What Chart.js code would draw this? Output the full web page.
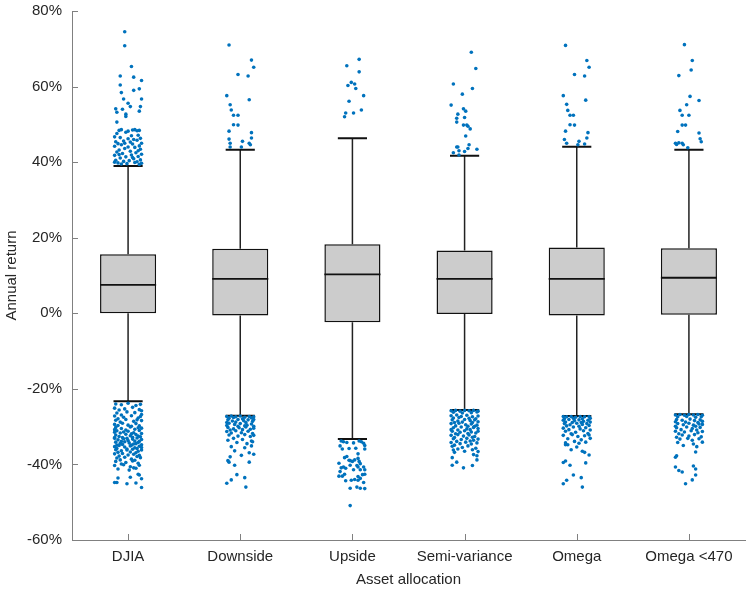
<!DOCTYPE html>
<html>
<head>
<meta charset="utf-8">
<script src="https://cdn.jsdelivr.net/npm/chart.js@4/dist/chart.umd.min.js"></script>
<style>
  body { margin: 0; background: #fff; }
  canvas { display: block; }
</style>
</head>
<body>
<canvas id="box" width="753" height="595"></canvas>
<script>
// categories and box statistics (annual return, %)
const categories = ["DJIA", "Downside", "Upside", "Semi-variance", "Omega", "Omega <470"];
const whiskerLow = [-23.3, -27.1, -33.3, -25.6, -27.2, -26.7];
const q1 = [0.0, -0.6, -2.4, -0.2, -0.6, -0.4];
const median = [7.5, 9.1, 10.3, 9.1, 9.1, 9.4];
const q3 = [15.6, 17.1, 18.3, 16.6, 17.4, 17.2];
const whiskerHigh = [39.0, 43.3, 46.3, 41.7, 44.1, 43.3];
const yTicks = [-60, -40, -20, 0, 20, 40, 60, 80];

// outliers: [jitter, return %]
const djiaOutliers = [
  [-0.03,74.5],[-0.03,70.8],[0.03,65.3],[-0.07,62.8],[0.05,62.5],[0.12,61.6],[-0.07,60.4],[0.10,59.4],
  [0.05,59.0],[-0.06,58.4],[-0.04,56.7],[0.12,56.7],[0.0,55.6],[0.02,54.7],[0.11,54.7],[-0.11,54.1],
  [-0.05,54.0],[-0.10,53.2],[0.10,53.5],[-0.02,52.7],[-0.02,52.1],[-0.10,50.6],
  [-0.08,48.4],[-0.06,48.6],[0.0,48.2],[0.04,48.5],[0.06,48.6],[0.08,48.3],[0.10,48.4],[-0.10,47.6],
  [-0.02,47.9],[0.09,47.1],[-0.12,46.7],[0.11,46.3],[-0.07,46.5],[0.0,46.2],[0.05,46.0],[-0.11,45.4],
  [-0.04,45.6],[0.02,45.3],[0.08,45.8],[0.12,45.0],[-0.09,44.9],[-0.06,44.6],[0.04,44.8],[0.10,44.3],
  [-0.12,44.2],[0.0,44.0],[-0.03,43.6],[0.06,43.9],[0.11,43.4],[-0.08,43.2],[-0.10,42.7],[0.02,42.9],
  [0.07,42.5],[-0.05,42.3],[0.12,42.1],[-0.12,41.8],[0.03,41.9],[-0.02,41.4],[0.09,41.5],[-0.07,41.1],
  [0.05,40.9],[0.11,40.6],[-0.11,40.5],[-0.04,40.2],[0.01,40.4],[0.08,40.1],[-0.09,39.8],[0.12,39.7],
  [-0.01,39.6],[0.06,39.9],[-0.06,39.5],[0.10,39.4],[-0.12,40.0],[0.04,41.2],[-0.08,42.0],[0.09,43.0],
  [-0.03,45.0],[0.03,47.0],
  [-0.11,-24.0],[-0.06,-24.2],[0.0,-23.8],[0.07,-24.4],[0.11,-24.1],
  [-0.12,-25.1],[-0.03,-25.3],[0.04,-24.9],[0.10,-25.5],[0.12,-25.8],[-0.08,-25.6],
  [-0.10,-26.4],[-0.01,-26.1],[0.06,-26.3],[0.12,-26.8],[-0.06,-26.9],
  [-0.12,-27.2],[-0.04,-27.5],[0.03,-27.1],[0.09,-27.7],[0.11,-27.3],[-0.09,-27.9],
  [-0.11,-28.3],[-0.02,-28.1],[0.05,-28.6],[0.12,-28.4],[-0.07,-28.8],[0.08,-28.2],
  [-0.12,-29.4],[-0.05,-29.1],[0.0,-29.6],[0.07,-29.2],[0.10,-29.8],[-0.09,-29.7],[0.03,-29.9],
  [-0.11,-30.2],[-0.06,-30.5],[0.02,-30.1],[0.06,-30.7],[0.12,-30.4],[-0.02,-30.9],[0.09,-30.3],[-0.12,-30.8],
  [-0.10,-31.1],[-0.04,-31.4],[0.0,-31.2],[0.05,-31.6],[0.10,-31.0],[0.12,-31.8],[-0.07,-31.7],[0.03,-31.9],[-0.12,-31.5],
  [-0.11,-32.2],[-0.08,-32.6],[-0.02,-32.0],[0.02,-32.4],[0.07,-32.1],[0.11,-32.7],[-0.05,-32.9],[0.04,-32.8],[0.09,-32.5],[-0.12,-32.9],
  [-0.12,-33.1],[-0.09,-33.5],[-0.04,-33.2],[0.0,-33.7],[0.04,-33.3],[0.08,-33.0],[0.12,-33.4],[-0.06,-33.9],[0.06,-33.8],[0.10,-33.9],[-0.01,-33.1],
  [-0.11,-34.1],[-0.07,-34.4],[-0.03,-34.0],[0.01,-34.3],[0.05,-34.6],[0.09,-34.2],[0.12,-34.8],[-0.10,-34.9],[-0.05,-34.7],[0.03,-34.9],[0.07,-34.5],
  [-0.12,-35.3],[-0.08,-35.0],[-0.03,-35.4],[0.02,-35.1],[0.06,-35.6],[0.10,-35.2],[-0.10,-35.8],[-0.01,-35.9],[0.08,-35.8],[0.12,-35.5],
  [-0.11,-36.1],[-0.06,-36.4],[-0.01,-36.2],[0.04,-36.0],[0.09,-36.5],[0.12,-36.2],[-0.09,-36.8],[0.02,-36.7],[0.07,-36.9],
  [-0.12,-37.2],[-0.05,-37.1],[0.0,-37.5],[0.05,-37.3],[0.10,-37.6],[-0.08,-37.8],[0.08,-37.9],
  [-0.10,-38.3],[-0.03,-38.1],[0.03,-38.6],[0.11,-38.2],[-0.07,-38.8],[0.06,-38.9],
  [-0.11,-39.2],[-0.02,-39.5],[0.04,-39.1],[0.09,-39.7],[-0.06,-39.9],
  [-0.12,-40.3],[-0.04,-40.1],[0.02,-40.6],[0.10,-40.2],[0.05,-40.9],
  [-0.09,-41.2],[0.01,-41.5],[0.07,-41.0],[0.09,-42.6],[0.10,-42.8],
  [-0.12,-44.8],[-0.10,-44.8],[-0.09,-43.6],[-0.01,-45.1],[0.02,-43.4],[0.07,-44.9],[0.12,-46.1],[0.12,-43.8]
];
const downsideOutliers = [
  [-0.10,71.0],[0.10,67.0],[0.12,65.1],[-0.02,63.2],[0.07,62.8],[-0.12,57.6],[0.08,56.5],[-0.09,55.2],
  [-0.08,53.8],[-0.06,52.4],[-0.02,52.4],[-0.06,49.9],[-0.02,49.8],[-0.10,48.2],[0.10,47.8],[0.10,46.4],
  [-0.10,46.1],[0.02,45.5],[-0.09,45.0],[0.08,45.0],[0.09,44.6],[-0.09,44.0],[0.01,44.0],
  [-0.12,-27.3],[-0.08,-27.2],[-0.04,-27.4],[0.0,-27.2],[0.04,-27.5],[0.08,-27.3],[0.12,-27.4],[-0.10,-27.8],[0.02,-27.9],[0.10,-27.7],[-0.06,-27.6],
  [-0.11,-28.2],[-0.07,-28.5],[-0.02,-28.1],[0.03,-28.4],[0.07,-28.2],[0.11,-28.6],[-0.12,-28.9],[-0.04,-28.8],[0.05,-28.9],[0.12,-28.1],
  [-0.10,-29.1],[-0.05,-29.4],[0.0,-29.2],[0.06,-29.6],[0.10,-29.3],[-0.12,-29.7],[-0.02,-29.9],[0.04,-29.8],[0.12,-29.9],
  [-0.11,-30.2],[-0.06,-30.6],[-0.01,-30.3],[0.05,-30.1],[0.09,-30.7],[0.12,-30.4],[-0.09,-30.9],[0.02,-30.8],
  [-0.12,-31.3],[-0.04,-31.1],[0.01,-31.6],[0.07,-31.2],[0.11,-31.8],[-0.08,-31.7],
  [-0.10,-32.2],[-0.02,-32.5],[0.04,-32.1],[0.09,-32.6],[0.12,-32.3],
  [-0.06,-33.1],[0.02,-33.4],[0.10,-33.8],[-0.11,-33.6],
  [-0.03,-34.2],[0.06,-34.5],[0.11,-34.0],[-0.08,-35.3],[0.04,-35.6],[0.10,-35.1],
  [-0.05,-36.4],[0.08,-36.9],[0.01,-37.6],[0.12,-37.3],[-0.09,-38.0],
  [-0.11,-39.0],[-0.10,-39.4],[-0.05,-40.2],[0.08,-39.4],[-0.03,-42.7],[0.04,-43.5],[-0.08,-44.1],[-0.12,-45.0],[0.05,-46.0]
];
const upsideOutliers = [
  [0.06,67.2],[-0.05,65.5],[0.06,63.9],[-0.01,61.1],[0.02,60.7],[-0.04,60.3],[0.03,59.5],[0.10,57.6],
  [-0.03,56.1],[0.08,53.8],[-0.06,53.0],[0.01,53.0],[-0.07,52.0],
  [-0.10,-33.8],[-0.08,-34.0],[-0.05,-34.2],[0.01,-34.3],[0.06,-33.8],[0.08,-34.0],[0.10,-34.4],[0.11,-35.0],
  [0.11,-35.9],[-0.11,-35.1],[-0.09,-35.9],[0.03,-35.7],[0.05,-37.2],[-0.03,-35.8],[-0.07,-38.2],[-0.05,-37.9],
  [-0.03,-38.9],[-0.02,-39.0],[0.0,-39.2],[0.02,-38.8],[0.05,-38.4],[0.06,-39.2],[0.07,-39.8],[0.04,-40.3],
  [-0.12,-39.7],[-0.10,-40.9],[-0.08,-40.7],[-0.06,-41.0],[-0.02,-40.2],[0.01,-41.4],[0.05,-40.7],[0.07,-41.4],
  [0.10,-40.7],[0.11,-41.4],[0.11,-42.6],[0.09,-42.7],[0.05,-43.2],[0.07,-43.7],[-0.11,-41.9],[-0.12,-43.1],
  [-0.09,-43.1],[-0.07,-42.6],[-0.06,-44.3],[-0.01,-44.2],[0.02,-44.0],[0.05,-44.2],[0.10,-44.8],[-0.02,-46.3],
  [0.04,-46.0],[0.07,-46.3],[0.11,-46.4],[-0.02,-50.9]
];
const semiVarOutliers = [
  [0.06,69.1],[0.10,64.8],[-0.10,60.7],[0.07,59.5],[-0.02,58.0],[-0.12,55.1],[-0.01,54.1],[0.01,53.5],
  [-0.06,52.7],[-0.07,51.6],[0.0,51.8],[-0.07,50.6],[-0.01,49.8],[0.02,49.8],[0.03,49.5],[0.05,48.8],
  [0.01,46.9],[0.04,44.6],[-0.07,44.0],[-0.06,44.0],[0.11,43.4],[0.03,43.6],[-0.05,43.0],[-0.10,42.5],
  [0.0,42.8],[-0.05,41.9],
  [-0.12,-25.8],[-0.08,-25.7],[-0.04,-25.9],[0.0,-25.7],[0.04,-25.8],[0.08,-25.7],[0.12,-25.9],[-0.10,-26.2],[-0.02,-26.4],[0.06,-26.3],[0.11,-26.1],
  [-0.12,-27.1],[-0.07,-26.9],[-0.03,-27.3],[0.02,-27.0],[0.07,-27.4],[0.12,-27.2],[-0.10,-27.7],[0.04,-27.8],[0.10,-27.9],[-0.05,-27.6],
  [-0.11,-28.2],[-0.06,-28.5],[0.0,-28.1],[0.05,-28.4],[0.09,-28.2],[0.12,-28.7],[-0.09,-28.9],[-0.02,-28.8],[0.07,-28.9],
  [-0.12,-29.2],[-0.05,-29.1],[0.01,-29.5],[0.06,-29.3],[0.11,-29.6],[-0.08,-29.8],[0.03,-29.9],[0.09,-29.9],
  [-0.10,-30.3],[-0.03,-30.1],[0.02,-30.6],[0.08,-30.2],[0.12,-30.5],[-0.12,-30.8],[-0.06,-30.9],[0.05,-30.8],
  [-0.11,-31.2],[-0.04,-31.5],[0.0,-31.1],[0.06,-31.4],[0.10,-31.7],[-0.08,-31.9],[0.03,-31.8],[0.12,-31.2],
  [-0.12,-32.3],[-0.06,-32.1],[-0.01,-32.5],[0.04,-32.2],[0.09,-32.6],[-0.09,-32.9],[0.07,-32.8],
  [-0.10,-33.2],[-0.03,-33.4],[0.02,-33.1],[0.08,-33.6],[0.12,-33.3],[-0.07,-33.9],[0.05,-33.8],
  [-0.12,-34.2],[-0.04,-34.5],[0.01,-34.1],[0.06,-34.6],[0.11,-34.3],[-0.09,-34.9],
  [-0.11,-35.2],[-0.02,-35.5],[0.03,-35.1],[0.10,-35.7],[-0.06,-35.9],
  [-0.10,-36.2],[0.0,-36.5],[0.07,-36.1],[0.12,-36.6],
  [-0.11,-38.2],[-0.07,-39.4],[-0.11,-40.2],[-0.01,-40.9],[0.07,-40.3],[0.11,-38.8],[0.11,-37.7],[0.08,-37.4],[-0.09,-36.8]
];
const omegaOutliers = [
  [-0.10,70.9],[0.09,66.9],[0.11,65.1],[-0.02,63.2],[0.07,62.8],[-0.12,57.6],[0.08,56.4],[-0.09,55.3],
  [-0.08,53.7],[-0.06,52.4],[-0.03,52.4],[-0.06,49.9],[-0.02,49.8],[-0.10,48.2],[0.10,47.8],[0.09,46.4],
  [-0.11,46.0],[0.02,45.5],[-0.09,45.0],[0.07,44.8],[0.01,44.6],
  [-0.12,-27.3],[-0.09,-27.4],[-0.05,-27.3],[-0.01,-27.5],[0.03,-27.3],[0.07,-27.4],[0.11,-27.3],[-0.11,-27.9],[-0.03,-27.8],[0.05,-27.9],[0.12,-27.8],
  [-0.12,-28.3],[-0.07,-28.1],[-0.02,-28.4],[0.02,-28.2],[0.06,-28.6],[0.10,-28.3],[-0.10,-28.8],[-0.04,-28.9],[0.04,-28.9],[0.12,-28.8],
  [-0.11,-29.2],[-0.06,-29.5],[0.0,-29.1],[0.05,-29.4],[0.09,-29.2],[-0.09,-29.8],[0.02,-29.9],[0.11,-29.7],
  [-0.12,-30.4],[-0.03,-30.1],[0.03,-30.6],[0.08,-30.3],[-0.07,-30.8],[0.12,-30.9],
  [-0.10,-31.2],[-0.01,-31.5],[0.06,-31.1],[0.10,-31.8],[-0.05,-31.9],
  [-0.12,-32.3],[-0.04,-32.1],[0.01,-32.6],[0.07,-32.4],[0.11,-32.2],
  [-0.08,-33.2],[0.04,-33.5],[0.12,-33.1],[-0.02,-33.9],[-0.10,-34.3],[0.08,-34.1],[0.02,-34.4],
  [-0.10,-34.8],[-0.08,-34.8],[-0.05,-36.1],[0.0,-35.4],[0.05,-36.5],[0.07,-36.8],[0.11,-37.5],[0.08,-39.6],
  [-0.12,-39.5],[-0.10,-39.1],[-0.06,-40.2],[-0.03,-42.8],[0.04,-43.5],[-0.09,-44.2],[-0.12,-45.1],[0.05,-46.0]
];
const omega470Outliers = [
  [-0.04,71.1],[0.03,66.9],[0.02,64.4],[-0.09,62.9],[0.01,57.4],[0.09,56.3],[-0.02,55.2],[-0.08,53.7],
  [-0.06,52.4],[0.0,52.4],[-0.06,49.8],[-0.03,49.8],[-0.10,48.1],[0.09,47.7],[0.10,46.2],[0.11,45.4],
  [-0.12,45.0],[-0.09,45.1],[-0.06,45.0],[-0.05,44.6],[-0.11,44.7],[-0.01,43.8],
  [-0.12,-26.9],[-0.08,-26.8],[-0.04,-27.0],[0.0,-26.8],[0.04,-26.9],[0.08,-26.8],[0.12,-27.0],[-0.10,-27.4],[-0.02,-27.3],[0.06,-27.5],[0.11,-27.4],
  [-0.11,-28.1],[-0.06,-28.3],[0.01,-28.0],[0.05,-28.4],[0.10,-28.2],[-0.12,-28.7],[-0.03,-28.8],[0.08,-28.9],[0.12,-28.6],
  [-0.10,-29.2],[-0.05,-29.5],[0.0,-29.1],[0.04,-29.6],[0.09,-29.3],[-0.12,-29.9],[0.06,-29.9],[0.12,-29.4],
  [-0.11,-30.3],[-0.02,-30.1],[0.03,-30.5],[0.10,-30.2],[-0.07,-30.8],[0.07,-30.9],
  [-0.12,-31.2],[-0.04,-31.4],[0.02,-31.1],[0.08,-31.6],[0.12,-31.3],[-0.09,-31.9],
  [-0.06,-32.2],[0.0,-32.5],[0.05,-32.1],[0.11,-32.7],[-0.11,-32.8],
  [-0.08,-33.3],[-0.01,-33.1],[0.03,-33.6],[0.09,-33.2],[-0.10,-34.2],[0.04,-34.6],[0.12,-34.1],
  [-0.05,-35.0],[0.07,-35.3],
  [0.06,-36.7],[-0.11,-37.7],[-0.12,-38.1],[-0.12,-40.7],[-0.09,-41.6],[-0.06,-42.0],[0.04,-40.4],
  [0.06,-41.2],[0.06,-42.8],[0.03,-44.1],[-0.03,-45.1]
];

const outlierSets = [djiaOutliers, downsideOutliers, upsideOutliers, semiVarOutliers, omegaOutliers, omega470Outliers];

const FONT = "'Liberation Sans', Arial, Helvetica, sans-serif";
const AXIS_GRAY = "#808080";
const TEXT = "#262626";

const boxData = categories.map((c, i) => ({ x: i + 1, y: [q1[i], q3[i]] }));
const pointData = [];
outlierSets.forEach((set, i) => {
  set.forEach(p => pointData.push({ x: i + 1 + p[0], y: p[1] }));
});

// whiskers, caps, medians and inward tick marks
const boxPlugin = {
  id: "boxParts",
  beforeDatasetsDraw(chart) {
    const { ctx, scales: { x, y } } = chart;
    ctx.save();
    categories.forEach((c, i) => {
      const cx = x.getPixelForValue(i + 1);
      const capHalf = (x.getPixelForValue(i + 1.13) - cx);
      ctx.strokeStyle = "#222";
      ctx.lineWidth = 1.5;
      ctx.beginPath();
      ctx.moveTo(cx, y.getPixelForValue(q3[i]));
      ctx.lineTo(cx, y.getPixelForValue(whiskerHigh[i]));
      ctx.moveTo(cx, y.getPixelForValue(q1[i]));
      ctx.lineTo(cx, y.getPixelForValue(whiskerLow[i]));
      ctx.stroke();
      ctx.strokeStyle = "#111";
      ctx.lineWidth = 2;
      ctx.beginPath();
      [whiskerHigh[i], whiskerLow[i]].forEach(v => {
        const py = y.getPixelForValue(v);
        ctx.moveTo(cx - capHalf, py);
        ctx.lineTo(cx + capHalf, py);
      });
      ctx.stroke();
    });
    ctx.restore();
  },
  afterDatasetDraw(chart, args) {
    if (args.index !== 0) return;
    const { ctx, scales: { x, y } } = chart;
    ctx.save();
    ctx.strokeStyle = "#111";
    ctx.lineWidth = 1.8;
    categories.forEach((c, i) => {
      const x0 = x.getPixelForValue(i + 0.75);
      const x1 = x.getPixelForValue(i + 1.25);
      const py = y.getPixelForValue(median[i]);
      ctx.beginPath();
      ctx.moveTo(x0, py);
      ctx.lineTo(x1, py);
      ctx.stroke();
    });
    ctx.restore();
  },
  afterDraw(chart) {
    const { ctx, chartArea, scales: { x, y } } = chart;
    ctx.save();
    ctx.strokeStyle = AXIS_GRAY;
    ctx.lineWidth = 1;
    ctx.beginPath();
    yTicks.forEach(v => {
      const py = Math.round(y.getPixelForValue(v)) + 0.5;
      ctx.moveTo(chartArea.left, py);
      ctx.lineTo(chartArea.left + 6, py);
    });
    categories.forEach((c, i) => {
      const px = Math.round(x.getPixelForValue(i + 1)) + 0.5;
      ctx.moveTo(px, chartArea.bottom);
      ctx.lineTo(px, chartArea.bottom - 6);
    });
    ctx.stroke();
    ctx.restore();
  }
};

new Chart(document.getElementById("box"), {
  data: {
    datasets: [
      {
        type: "bar",
        label: "box",
        data: boxData,
        backgroundColor: "#cccccc",
        borderColor: "#111",
        borderWidth: 1.5,
        borderSkipped: false,
        categoryPercentage: 1,
        barPercentage: 0.5
      },
      {
        type: "scatter",
        label: "outliers",
        data: pointData,
        backgroundColor: "#0072bd",
        borderWidth: 0,
        pointRadius: 1.8,
        clip: false
      }
    ]
  },
  options: {
    responsive: false,
    animation: false,
    layout: { padding: { left: 0, right: 8, top: 3, bottom: 0 } },
    plugins: { legend: { display: false }, tooltip: { enabled: false } },
    scales: {
      x: {
        type: "linear",
        min: 0.5,
        max: 6.5,
        offset: false,
        grid: { display: false },
        border: { display: true, color: AXIS_GRAY, width: 1 },
        afterBuildTicks: s => { s.ticks = categories.map((c, i) => ({ value: i + 1 })); },
        afterFit: s => { s.height = 55; },
        ticks: {
          padding: 0,
          color: TEXT,
          font: { family: FONT, size: 15 },
          maxRotation: 0,
          autoSkip: false,
          callback: v => categories[v - 1]
        },
        title: {
          display: true,
          text: "Asset allocation",
          color: TEXT,
          font: { family: FONT, size: 15 },
          padding: { top: 0, bottom: 6 }
        }
      },
      y: {
        min: -60,
        max: 80,
        grid: { display: false },
        border: { display: true, color: AXIS_GRAY, width: 1 },
        afterBuildTicks: s => { s.ticks = yTicks.map(v => ({ value: v })); },
        afterFit: s => { s.width = 72; },
        ticks: {
          padding: 2,
          color: TEXT,
          font: { family: FONT, size: 15 },
          callback: v => v + "%"
        },
        title: {
          display: true,
          text: "Annual return",
          color: TEXT,
          font: { family: FONT, size: 15 },
          padding: { top: 3, bottom: 0 }
        }
      }
    }
  },
  plugins: [boxPlugin]
});
</script>
</body>
</html>
